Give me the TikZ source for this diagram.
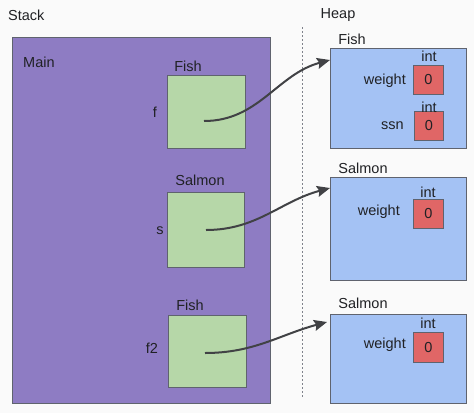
\documentclass[tikz,border=0pt]{standalone}
\usepackage{fontspec}
\setmainfont{Liberation Sans}
\usepackage{tikz}
\usetikzlibrary{arrows.meta}
\definecolor{stackbg}{RGB}{142,124,195}
\definecolor{refbg}{RGB}{182,215,168}
\definecolor{objbg}{RGB}{164,194,244}
\definecolor{valbg}{RGB}{224,102,102}
\definecolor{edge}{RGB}{95,99,110}
\definecolor{ink}{RGB}{32,33,36}
\definecolor{pagebg}{RGB}{250,250,250}
\begin{document}
\begin{tikzpicture}[x=1pt,y=-1pt,
  every node/.style={text=ink,font=\fontsize{14.5}{17}\selectfont,inner sep=0pt},
  box/.style={draw=edge,line width=0.8pt,anchor=north west},
  ptr/.style={draw=ink!85,line width=2pt,-{Stealth[length=13pt,width=11pt,inset=2pt]}}]
\fill[pagebg] (0,0) rectangle (474,413);
% begin stack
\node[anchor=west] (stacklbl) at (8,15) {Stack};
\node[box,fill=stackbg,minimum width=258pt,minimum height=366pt] (mainframe) at (12,37) {};
\node[anchor=west] (mainlbl) at (23,62) {Main};
\node[box,fill=refbg,minimum width=78pt,minimum height=73pt] (fbox) at (167,75) {};
\node[box,fill=refbg,minimum width=77pt,minimum height=75pt] (sbox) at (167,192) {};
\node[box,fill=refbg,minimum width=78pt,minimum height=72pt] (ftwobox) at (168,315) {};
\node (ftype) at (188,66) {Fish};
\node (stype) at (200,180) {Salmon};
\node (ftwotype) at (190,305) {Fish};
\node (fname) at (155,112) {f};
\node (sname) at (160,231) {s};
\node (ftwoname) at (152,348) {f2};
\coordinate (fptr) at (204,121);
\coordinate (sptr) at (206,230);
\coordinate (ftwoptr) at (205,353);
% divider
\draw[edge!80,line width=1pt,dash pattern=on 2pt off 2pt] (302,27)--(302,397);
% begin heap
\node (heaplbl) at (338,15) {Heap};
\node[box,fill=objbg,minimum width=136pt,minimum height=100pt] (fobj) at (330,48) {};
\node[box,fill=objbg,minimum width=136pt,minimum height=103pt] (sobj) at (330,177) {};
\node[box,fill=objbg,minimum width=136pt,minimum height=89pt] (ftwoobj) at (330,314) {};
\node (fobjlbl) at (352,39) {Fish};
\node (sobjlbl) at (363,168) {Salmon};
\node (ftwoobjlbl) at (363,303) {Salmon};
\node[box,fill=valbg,minimum width=30pt,minimum height=29pt] (fweight) at (413,65) {};
\node[box,fill=valbg,minimum width=29pt,minimum height=29pt] (fssn) at (414,111) {};
\node[box,fill=valbg,minimum width=30pt,minimum height=29pt] (sweight) at (413,199) {};
\node[box,fill=valbg,minimum width=30pt,minimum height=30pt] (ftwoweight) at (413,332) {};
\node at (fweight.center) {0};
\node at (fssn.center) {0};
\node at (sweight.center) {0};
\node at (ftwoweight.center) {0};
\node (int1) at (429,56) {int};
\node (int2) at (429,107) {int};
\node (int3) at (428,192) {int};
\node (int4) at (428,323) {int};
\node[anchor=east] (wlbl1) at (406,81) {weight};
\node[anchor=east] (ssnlbl) at (404,126) {ssn};
\node[anchor=east] (wlbl2) at (400,212) {weight};
\node[anchor=east] (wlbl3) at (406,345) {weight};
\coordinate (fin) at (330,60);
\coordinate (sin) at (330,188);
\coordinate (ftwoin) at (327,322);
% pointers
\draw[ptr] (fptr) to[out=0,in=195] (fin);
\draw[ptr] (sptr) to[out=0,in=195] (sin);
\draw[ptr] (ftwoptr) to[out=0,in=195] (ftwoin);
\end{tikzpicture}
\end{document}
